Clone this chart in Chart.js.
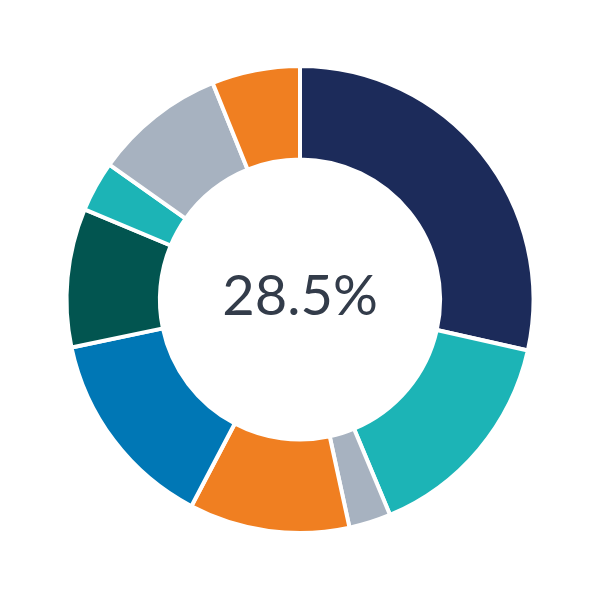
<!DOCTYPE html>
<html>
<head>
<meta charset="utf-8">
<script src="https://cdn.jsdelivr.net/npm/chart.js@4"></script>
<style>
  html, body { margin: 0; padding: 0; background: #fff; }
  #wrap { width: 600px; height: 600px; position: relative; }
</style>
</head>
<body>
<div id="wrap"><canvas id="donutChart"></canvas></div>
<script>
// segments clockwise from 12 o'clock
const labels = ["A", "B", "C", "D", "E", "F", "G", "H", "I"];
const values = [28.5, 15.2, 2.9, 11.1, 14.0, 9.6, 3.5, 9.1, 6.1];
const colors = ["#1c2b5a", "#1cb4b6", "#a7b2c0", "#f07f21", "#0077b5", "#025550", "#1cb4b6", "#a7b2c0", "#f07f21"];
const centerLabel = "28.5%";

const centerText = {
    id: 'centerText',
    afterDraw(chart) {
        const meta = chart.getDatasetMeta(0);
        const arc = meta.data[0];
        const ctx = chart.ctx;
        ctx.save();
        ctx.font = '56px Lato, sans-serif';
        ctx.fillStyle = '#333c4a';
        ctx.textAlign = 'center';
        ctx.textBaseline = 'middle';
        ctx.fillText(centerLabel, arc.x, arc.y - 3);
        ctx.restore();
    }
};

const cvs = document.getElementById('donutChart');

new Chart(cvs, {
    type: 'doughnut',
    data: {
        labels: labels,
        datasets: [{
            data: values,
            backgroundColor: colors,
            borderColor: '#ffffff',
            borderWidth: 4
        }]
    },
    options: {
        responsive: true,
        maintainAspectRatio: false,
        cutout: '60%',
        layout: { padding: { top: 64, bottom: 65, left: 64, right: 64 } },
        plugins: {
            legend: { display: false },
            tooltip: { enabled: false }
        },
        animation: { duration: 0 }
    },
    plugins: [centerText]
});
</script>
</body>
</html>
